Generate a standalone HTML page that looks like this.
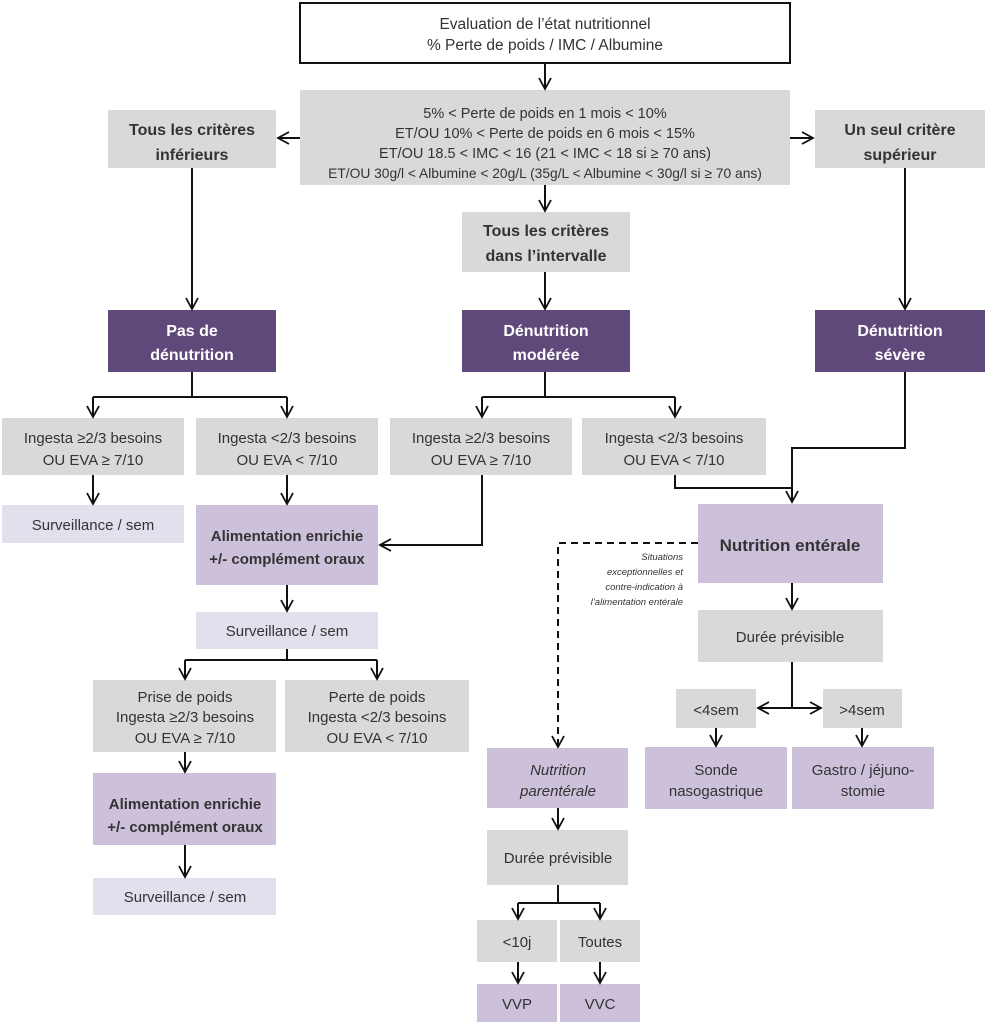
<!DOCTYPE html>
<html><head><meta charset="utf-8"><style>
html,body{margin:0;padding:0;background:#fff;}
svg{display:block;}
text{font-family:"Liberation Sans",sans-serif;fill:#333;}
.b{font-weight:bold;}
.w{fill:#fff;font-weight:bold;}
</style></head><body>
<svg width="985" height="1024" viewBox="0 0 985 1024" xmlns="http://www.w3.org/2000/svg">
<defs>
<marker id="a" markerWidth="16" markerHeight="16" refX="12" refY="7" orient="auto" markerUnits="userSpaceOnUse">
<path d="M1,1 L12,7 L1,13" fill="none" stroke="#111" stroke-width="1.8"/>
</marker>
</defs>
<rect x="300" y="3" width="490" height="60" fill="#fff" stroke="#111" stroke-width="2"/>
<rect x="300" y="90" width="490" height="95" fill="#d9d9d9"/>
<rect x="108" y="110" width="168" height="58" fill="#d9d9d9"/>
<rect x="815" y="110" width="170" height="58" fill="#d9d9d9"/>
<rect x="462" y="212" width="168" height="60" fill="#d9d9d9"/>
<rect x="108" y="310" width="168" height="62" fill="#5f497a"/>
<rect x="462" y="310" width="168" height="62" fill="#5f497a"/>
<rect x="815" y="310" width="170" height="62" fill="#5f497a"/>
<rect x="2" y="418" width="182" height="57" fill="#d9d9d9"/>
<rect x="196" y="418" width="182" height="57" fill="#d9d9d9"/>
<rect x="390" y="418" width="182" height="57" fill="#d9d9d9"/>
<rect x="582" y="418" width="184" height="57" fill="#d9d9d9"/>
<rect x="2" y="505" width="182" height="38" fill="#e4dfec"/>
<rect x="196" y="505" width="182" height="80" fill="#ccc0da"/>
<rect x="196" y="612" width="182" height="37" fill="#e4dfec"/>
<rect x="93" y="680" width="183" height="72" fill="#d9d9d9"/>
<rect x="285" y="680" width="184" height="72" fill="#d9d9d9"/>
<rect x="93" y="773" width="183" height="72" fill="#ccc0da"/>
<rect x="93" y="878" width="183" height="37" fill="#e4dfec"/>
<rect x="698" y="504" width="185" height="79" fill="#ccc0da"/>
<rect x="698" y="610" width="185" height="52" fill="#d9d9d9"/>
<rect x="676" y="689" width="80" height="39" fill="#d9d9d9"/>
<rect x="823" y="689" width="79" height="39" fill="#d9d9d9"/>
<rect x="645" y="747" width="142" height="62" fill="#ccc0da"/>
<rect x="792" y="747" width="142" height="62" fill="#ccc0da"/>
<rect x="487" y="748" width="141" height="60" fill="#ccc0da"/>
<rect x="487" y="830" width="141" height="55" fill="#d9d9d9"/>
<rect x="477" y="920" width="80" height="42" fill="#d9d9d9"/>
<rect x="560" y="920" width="80" height="42" fill="#d9d9d9"/>
<rect x="477" y="984" width="80" height="38" fill="#ccc0da"/>
<rect x="560" y="984" width="80" height="38" fill="#ccc0da"/>
<g stroke="#111" stroke-width="2" fill="none">
<path d="M545 63 V89" marker-end="url(#a)"/>
<path d="M300 138 H278" marker-end="url(#a)"/>
<path d="M790 138 H813" marker-end="url(#a)"/>
<path d="M545 185 V211" marker-end="url(#a)"/>
<path d="M545 272 V309" marker-end="url(#a)"/>
<path d="M192 168 V309" marker-end="url(#a)"/>
<path d="M905 168 V309" marker-end="url(#a)"/>
<path d="M192 372 V397 M93 397 H287"/>
<path d="M93 397 V417" marker-end="url(#a)"/>
<path d="M287 397 V417" marker-end="url(#a)"/>
<path d="M545 372 V397 M482 397 H675"/>
<path d="M482 397 V417" marker-end="url(#a)"/>
<path d="M675 397 V417" marker-end="url(#a)"/>
<path d="M905 372 V448 H792 V502" marker-end="url(#a)"/>
<path d="M675 475 V488 H792"/>
<path d="M93 475 V504" marker-end="url(#a)"/>
<path d="M287 475 V504" marker-end="url(#a)"/>
<path d="M482 475 V545 H380" marker-end="url(#a)"/>
<path d="M287 585 V611" marker-end="url(#a)"/>
<path d="M287 649 V660 M185 660 H377"/>
<path d="M185 660 V679" marker-end="url(#a)"/>
<path d="M377 660 V679" marker-end="url(#a)"/>
<path d="M185 752 V772" marker-end="url(#a)"/>
<path d="M185 845 V877" marker-end="url(#a)"/>
<path d="M792 583 V609" marker-end="url(#a)"/>
<path d="M792 662 V708"/>
<path d="M792 708 H758" marker-end="url(#a)"/>
<path d="M792 708 H821" marker-end="url(#a)"/>
<path d="M716 728 V746" marker-end="url(#a)"/>
<path d="M862 728 V746" marker-end="url(#a)"/>
<path d="M558 808 V829" marker-end="url(#a)"/>
<path d="M558 885 V903 M518 903 H600"/>
<path d="M518 903 V919" marker-end="url(#a)"/>
<path d="M600 903 V919" marker-end="url(#a)"/>
<path d="M518 962 V983" marker-end="url(#a)"/>
<path d="M600 962 V983" marker-end="url(#a)"/>
<path d="M698 543 H558 V747" stroke-dasharray="7,5" marker-end="url(#a)"/>
</g>
<g text-anchor="middle" font-size="15">
<text x="545" y="29" font-size="15.5">Evaluation de l’état nutritionnel</text>
<text x="545" y="50" font-size="15.5">% Perte de poids / IMC / Albumine</text>
<text x="545" y="118" font-size="14.5">5% &lt; Perte de poids en 1 mois &lt; 10%</text>
<text x="545" y="138" font-size="14.5">ET/OU 10% &lt; Perte de poids en 6 mois &lt; 15%</text>
<text x="545" y="158" font-size="14.5">ET/OU 18.5 &lt; IMC &lt; 16 (21 &lt; IMC &lt; 18 si ≥ 70 ans)</text>
<text x="545" y="178" font-size="13.8">ET/OU 30g/l &lt; Albumine &lt; 20g/L (35g/L &lt; Albumine &lt; 30g/l si ≥ 70 ans)</text>
<text class="b" x="192" y="135" font-size="16">Tous les critères</text>
<text class="b" x="192" y="160" font-size="16">inférieurs</text>
<text class="b" x="900" y="135" font-size="16">Un seul critère</text>
<text class="b" x="900" y="160" font-size="16">supérieur</text>
<text class="b" x="546" y="236" font-size="16">Tous les critères</text>
<text class="b" x="546" y="261" font-size="16">dans l’intervalle</text>
<text class="w" x="192" y="336" font-size="16">Pas de</text>
<text class="w" x="192" y="360" font-size="16">dénutrition</text>
<text class="w" x="546" y="336" font-size="16">Dénutrition</text>
<text class="w" x="546" y="360" font-size="16">modérée</text>
<text class="w" x="900" y="336" font-size="16">Dénutrition</text>
<text class="w" x="900" y="360" font-size="16">sévère</text>
<text x="93" y="443">Ingesta ≥2/3 besoins</text><text x="93" y="465">OU EVA ≥ 7/10</text>
<text x="287" y="443">Ingesta &lt;2/3 besoins</text><text x="287" y="465">OU EVA &lt; 7/10</text>
<text x="481" y="443">Ingesta ≥2/3 besoins</text><text x="481" y="465">OU EVA ≥ 7/10</text>
<text x="674" y="443">Ingesta &lt;2/3 besoins</text><text x="674" y="465">OU EVA &lt; 7/10</text>
<text x="93" y="530">Surveillance / sem</text>
<text class="b" x="287" y="541">Alimentation enrichie</text>
<text class="b" x="287" y="564">+/- complément oraux</text>
<text x="287" y="636">Surveillance / sem</text>
<text x="185" y="702">Prise de poids</text><text x="185" y="722">Ingesta ≥2/3 besoins</text><text x="185" y="743">OU EVA ≥ 7/10</text>
<text x="377" y="702">Perte de poids</text><text x="377" y="722">Ingesta &lt;2/3 besoins</text><text x="377" y="743">OU EVA &lt; 7/10</text>
<text class="b" x="185" y="809">Alimentation enrichie</text>
<text class="b" x="185" y="832">+/- complément oraux</text>
<text x="185" y="902">Surveillance / sem</text>
<text class="b" x="790" y="551" font-size="17">Nutrition entérale</text>
<text x="790" y="642">Durée prévisible</text>
<text x="716" y="715">&lt;4sem</text>
<text x="862" y="715">&gt;4sem</text>
<text x="716" y="775">Sonde</text><text x="716" y="796">nasogastrique</text>
<text x="863" y="775">Gastro / jéjuno-</text><text x="863" y="796">stomie</text>
<text x="558" y="775" font-style="italic">Nutrition</text><text x="558" y="796" font-style="italic">parentérale</text>
<text x="558" y="863">Durée prévisible</text>
<text x="517" y="947">&lt;10j</text><text x="600" y="947">Toutes</text>
<text x="517" y="1009">VVP</text><text x="600" y="1009">VVC</text>
</g>
<g text-anchor="end" font-size="9.5" font-style="italic">
<text x="683" y="560">Situations</text>
<text x="683" y="575">exceptionnelles et</text>
<text x="683" y="590">contre-indication à</text>
<text x="683" y="605">l’alimentation entérale</text>
</g>
</svg>
</body></html>
